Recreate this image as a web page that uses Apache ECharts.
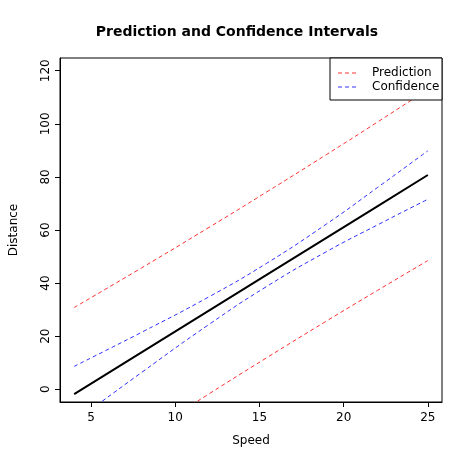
<!DOCTYPE html>
<html><head><meta charset="utf-8">
<script src="https://cdn.jsdelivr.net/npm/echarts@6/dist/echarts.min.js"></script>
<style>html,body{margin:0;background:#fff}#c{width:474px;height:474px}</style>
</head><body><div id="c"></div>
<script>
const speed=[4,4,7,7,8,9,10,10,10,11,11,12,12,12,12,13,13,13,13,14,14,14,14,15,15,15,16,16,17,17,17,18,18,18,18,19,19,19,20,20,20,20,20,22,23,24,24,24,24,25];
const dist=[2,10,4,22,16,10,18,26,34,17,28,14,20,24,28,26,34,34,46,26,36,60,80,20,26,54,32,40,32,40,50,42,56,76,84,36,46,68,32,48,52,56,64,66,54,70,92,93,120,85];
const lineX=[4,8,12,15.4,19,22,25];
const fitY=[-1.85,13.88,29.6,42.98,57.13,68.92,80.72];
const confLo=[-12.33,6.31,24.39,38.61,51.92,61.88,71.59];
const confHi=[8.63,21.45,34.81,47.35,62.34,75.96,89.85];
const predLo=[-34.5,-17.95,-1.76,11.75,25.77,37.21,48.48];
const predHi=[30.8,45.71,60.96,74.21,88.49,100.63,112.96];
const xTicks=[5,10,15,20,25];
const yTicks=[0,20,40,60,80,100,120];
const zip=(a,b)=>a.map((v,i)=>[v,b[i]]);
const ch=echarts.init(document.getElementById('c'));
const ff='DejaVu Sans';
const dashed=(d,c)=>({type:'line',data:zip(lineX,d),smooth:true,showSymbol:false,clip:true,lineStyle:{color:c,width:1,type:[4,3]},z:3});
ch.setOption({
 animation:false,
 title:{text:'Prediction and Confidence Intervals',left:'center',top:20,textStyle:{fontFamily:ff,fontSize:14,fontWeight:'bold',color:'#000'}},
 grid:{left:58,right:32,top:58,bottom:72,show:true,borderColor:'#000',borderWidth:1},
 xAxis:{type:'value',min:3.16,max:25.84,name:'Speed',nameLocation:'middle',nameGap:33,nameTextStyle:{fontFamily:ff,fontSize:12,color:'#000'},
  axisLine:{show:true,onZero:false,lineStyle:{color:'#000'}},splitLine:{show:false},
  axisTick:{show:true,customValues:xTicks,lineStyle:{color:'#000'}},
  axisLabel:{customValues:xTicks,fontFamily:ff,fontSize:12,color:'#000',margin:10}},
 yAxis:{type:'value',min:-4.8,max:124.8,name:'Distance',nameLocation:'middle',nameGap:40,nameTextStyle:{fontFamily:ff,fontSize:12,color:'#000'},
  axisLine:{show:true,onZero:false,lineStyle:{color:'#000'}},splitLine:{show:false},
  axisTick:{show:true,customValues:yTicks,lineStyle:{color:'#000'}},
  axisLabel:{customValues:yTicks,rotate:90,fontFamily:ff,fontSize:12,color:'#000',margin:8}},
 series:[
  {type:'scatter',data:zip(speed,dist),symbol:'emptyCircle',symbolSize:6,itemStyle:{color:'#fff',borderColor:'#222',borderWidth:0.7},z:2},
  {type:'line',data:zip(lineX,fitY),showSymbol:false,lineStyle:{color:'#000',width:2},z:4},
  dashed(predLo,'#ff3030'),dashed(predHi,'#ff3030'),
  dashed(confLo,'#3030ff'),dashed(confHi,'#3030ff')
 ],
 graphic:[
  {type:'rect',shape:{x:330,y:58,width:112,height:42},style:{fill:'#fff',stroke:'#000',lineWidth:1},z:100},
  {type:'line',shape:{x1:338,y1:73,x2:358,y2:73},style:{stroke:'#ff3030',lineWidth:1,lineDash:[4,3]},z:101},
  {type:'line',shape:{x1:338,y1:87,x2:358,y2:87},style:{stroke:'#3030ff',lineWidth:1,lineDash:[4,3]},z:101},
  {type:'text',x:372,y:73,style:{text:'Prediction',font:'12px DejaVu Sans',fill:'#000',verticalAlign:'middle'},z:101},
  {type:'text',x:372,y:87,style:{text:'Confidence',font:'12px DejaVu Sans',fill:'#000',verticalAlign:'middle'},z:101}
 ]
});
</script></body></html>
